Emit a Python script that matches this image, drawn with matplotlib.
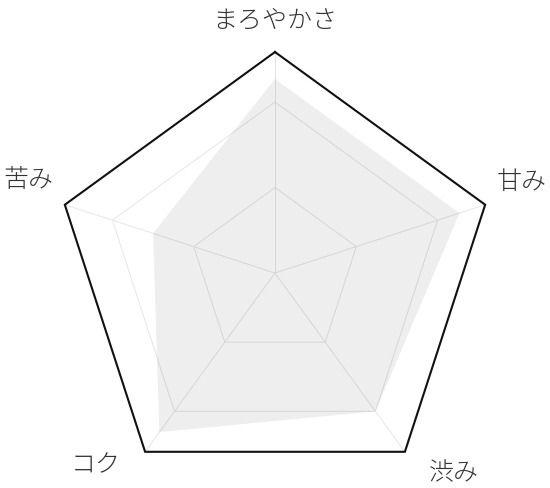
import numpy as np
import matplotlib
matplotlib.use("Agg")
import matplotlib.pyplot as plt

plt.rcParams['font.family'] = ['Noto Sans CJK JP', 'DejaVu Sans']

categories = ["まろやかさ", "甘み", "渋み", "コク", "苦み"]
values = [2.27, 2.27, 2.0, 2.3, 1.5]
ring_ticks = [1, 2]
r_max = 2.585

fig = plt.figure(figsize=(5.5, 4.88), dpi=100)
ax = fig.add_axes([0.0982, -0.0123, 0.8036, 0.9057], projection='polar')
ax.set_theta_offset(np.pi / 2)
ax.set_theta_direction(-1)
ax.set_ylim(0, r_max)
ax.axis('off')

n = len(categories)
theta = np.linspace(0, 2 * np.pi, n, endpoint=False)
theta_c = np.append(theta, theta[0])

# fill
vals_c = np.append(values, values[0])
ax.fill(theta_c, vals_c, color=(0, 0, 0), alpha=0.065, lw=0, zorder=3)

# grid rings
for t in ring_ticks:
    ax.plot(theta_c, [t] * (n + 1), color='#e6e6e6', lw=0.7, zorder=2)
# spokes
for th in theta:
    ax.plot([th, th], [0, r_max], color='#e6e6e6', lw=0.7, zorder=2)
# outer border
ax.plot(theta_c, [r_max] * (n + 1), color='#111111', lw=1.5, zorder=4,
        solid_joinstyle='miter', clip_on=False)

offsets = [(0, 32), (36, 23), (49, -21), (-49, -13), (-36, 25)]
for th, lab, off in zip(theta, categories, offsets):
    ax.annotate(lab, xy=(th, r_max), xytext=off, textcoords='offset pixels',
                ha='center', va='center', fontsize=18, fontweight='light',
                color='#333333', annotation_clip=False)

fig.savefig('out.png', dpi=100, facecolor='white')
